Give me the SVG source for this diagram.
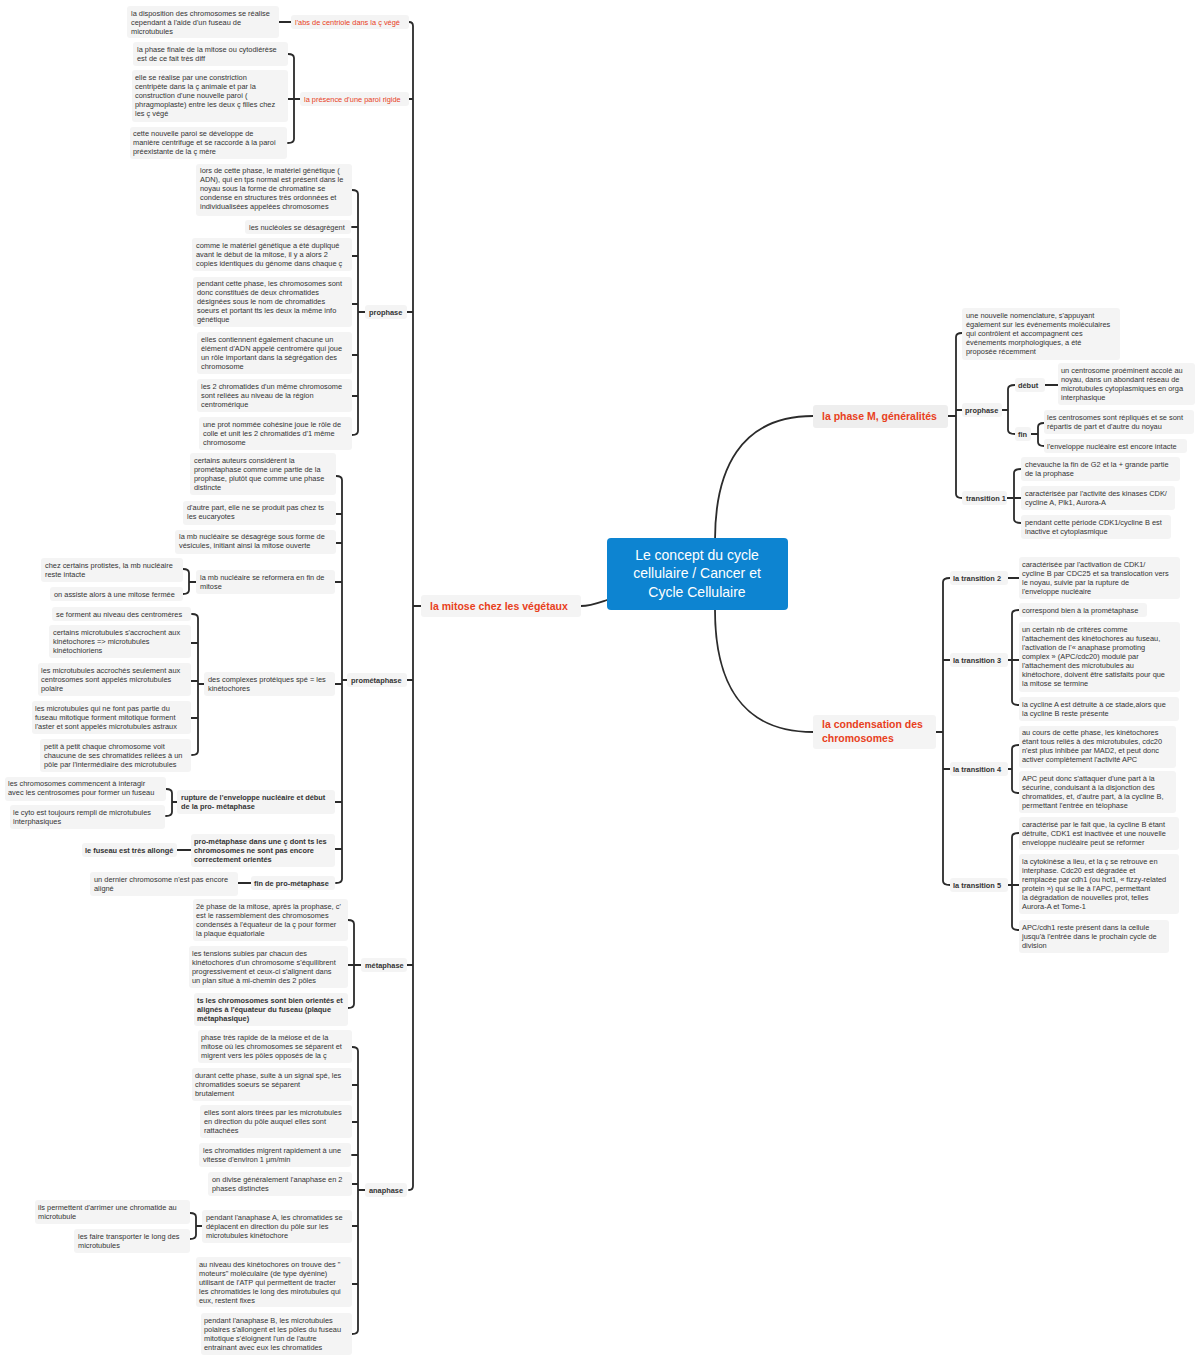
<svg xmlns="http://www.w3.org/2000/svg" width="1200" height="1363" viewBox="0 0 1200 1363">
<style>
.b{fill:#f4f4f4}
text{font-family:"Liberation Sans",Arial,sans-serif;font-size:7.4px;fill:#333}
.bo{font-weight:bold}
.r{fill:#e8401c}
.m{font-size:10.5px;font-weight:bold;fill:#e8401c}
.c{fill:none;stroke:#2b2b2b;stroke-width:1.8;stroke-linecap:round}
</style>
<rect width="1200" height="1363" fill="#fff"/>
<g id="connectors" class="c">
<path d="M715,540 C715,470 740,416 813,416"/>
<path d="M715,610 C715,680 740,732 813,732"/>
<path d="M607,600 C595,604 590,606 581,606"/>
<path d="M409,22 Q413,22 413,26 V1186 Q413,1190 409,1190 M409,99 H413 M407,312 H413 M407,680 H413 M407,965 H413 M413,606 H421"/>
<path d="M279,22 H291"/>
<path d="M288,54 Q294,54 294,58 V139 Q294,143 288,143 M288,99 H300"/>
<path d="M352,190 Q358,190 358,194 V431 Q358,435 352,435 M352,227 H358 M352,256 H358 M352,304 H358 M352,355 H358 M352,396 H358 M358,312 H365"/>
<path d="M336,476 Q342,476 342,480 V879 Q342,883 336,883 M336,514 H342 M336,543 H342 M335,582 H342 M335,684 H342 M335,802 H342 M335,849 H342 M342,680 H347"/>
<path d="M183,569 Q189,569 189,573 V590 Q189,594 183,594 M189,582 H196"/>
<path d="M192,614 Q198,614 198,618 V751 Q198,755 192,755 M191,643 H198 M191,681 H198 M191,718 H198 M198,684 H204"/>
<path d="M166,789 Q172,789 172,793 V812 Q172,816 166,816 M172,802 H177"/>
<path d="M177,850 H191 M238,883 H251"/>
<path d="M348,920 Q354,920 354,924 V1004 Q354,1008 348,1008 M348,965 H361"/>
<path d="M352,1047 Q358,1047 358,1051 V1330 Q358,1334 352,1334 M352,1085 H358 M352,1122 H358 M352,1155 H358 M352,1184 H358 M352,1226 H358 M352,1284 H358 M358,1190 H365"/>
<path d="M190,1213 Q196,1213 196,1217 V1235 Q196,1239 190,1239 M196,1226 H202"/>
<path d="M962,333 Q956,333 956,337 V494 Q956,498 962,498 M948,416 H956 M956,410 H962"/>
<path d="M1015,385 Q1008,385 1008,389 V430 Q1008,434 1015,434 M1002,410 H1008 M1045,385 H1058"/>
<path d="M1044,423 Q1038,423 1038,427 V442 Q1038,446 1044,446 M1031,434 H1038"/>
<path d="M1021,469 Q1014,469 1014,473 V519 Q1014,523 1021,523 M1007,498 H1021"/>
<path d="M950,578 Q943,578 943,582 V881 Q943,885 950,885 M936,732 H943 M943,660 H950 M943,769 H950 M1008,578 H1019"/>
<path d="M1019,610 Q1012,610 1012,614 V701 Q1012,705 1019,705 M1008,660 H1019"/>
<path d="M1019,745 Q1012,745 1012,749 V789 Q1012,793 1019,793 M1008,769 H1012"/>
<path d="M1019,833 Q1012,833 1012,837 V926 Q1012,930 1019,930 M1008,885 H1019"/>
</g>
<g id="center">
<rect x="607" y="538" width="181" height="72" rx="4" fill="#0d84d1"/>
<text x="697" y="560" text-anchor="middle" style="font-size:14px;fill:#fff">Le concept du cycle</text>
<text x="697" y="578" text-anchor="middle" style="font-size:14px;fill:#fff">cellulaire / Cancer et</text>
<text x="697" y="597" text-anchor="middle" style="font-size:14px;fill:#fff">Cycle Cellulaire</text>
</g>
<g id="phaseM"><rect x="813" y="405" width="135" height="23" rx="3" fill="#eee"/><text class="m" x="822" y="420">la phase M, généralités</text></g>
<g id="condensation"><rect class="b" x="813" y="715" width="123" height="34" rx="3"/><text class="m" x="822" y="728">la condensation des</text><text class="m" x="822" y="742">chromosomes</text></g>
<g id="mitose"><rect class="b" x="421" y="595" width="160" height="22" rx="3"/><text class="m" x="430" y="610">la mitose chez les végétaux</text></g>

<g id="n1"><rect class="b" x="291" y="15" width="118" height="14" rx="3"/><text class="r" x="295" y="25">l'abs de centriole dans la ç végé</text></g>
<g id="n1a"><rect class="b" x="127" y="6" width="152" height="32" rx="3"/><text x="131" y="16">la disposition des chromosomes se réalise</text><text x="131" y="25">cependant à l'aide d'un fuseau de</text><text x="131" y="34">microtubules</text></g>
<g id="n2"><rect class="b" x="300" y="92" width="109" height="14" rx="3"/><text class="r" x="304" y="102">la présence d'une paroi rigide</text></g>
<g id="n2a"><rect class="b" x="133" y="42" width="155" height="24" rx="3"/><text x="137" y="52">la phase finale de la mitose ou cytodiérèse</text><text x="137" y="61">est de ce fait très diff</text></g>
<g id="n2b"><rect class="b" x="132" y="70" width="156" height="52" rx="3"/><text x="135" y="80">elle se réalise par une constriction</text><text x="135" y="89">centripète dans la ç animale et par la</text><text x="135" y="98">construction d'une nouvelle paroi (</text><text x="135" y="107">phragmoplaste) entre les deux ç filles chez</text><text x="135" y="116">les ç végé</text></g>
<g id="n2c"><rect class="b" x="130" y="127" width="157" height="32" rx="3"/><text x="133" y="136">cette nouvelle paroi se développe de</text><text x="133" y="145">manière centrifuge et se raccorde à la paroi</text><text x="133" y="154">préexistante de la ç mère</text></g>

<g id="prophase"><rect class="b" x="365" y="305" width="42" height="14" rx="3"/><text class="bo" x="369" y="315">prophase</text></g>
<g id="p1"><rect class="b" x="196" y="164" width="156" height="52" rx="3"/><text x="200" y="173">lors de cette phase, le matériel génétique (</text><text x="200" y="182">ADN), qui en tps normal est présent dans le</text><text x="200" y="191">noyau sous la forme de chromatine se</text><text x="200" y="200">condense en structures très ordonnées et</text><text x="200" y="209">individualisées appelées chromosomes</text></g>
<g id="p2"><rect class="b" x="245" y="220" width="106" height="14" rx="3"/><text x="249" y="230">les nucléoles se désagrègent</text></g>
<g id="p3"><rect class="b" x="192" y="238" width="160" height="33" rx="3"/><text x="196" y="248">comme le matériel génétique a été dupliqué</text><text x="196" y="257">avant le début de la mitose, il y a alors 2</text><text x="196" y="266">copies identiques du génome dans chaque ç</text></g>
<g id="p4"><rect class="b" x="193" y="277" width="159" height="50" rx="3"/><text x="197" y="286">pendant cette phase, les chromosomes sont</text><text x="197" y="295">donc constitués de deux chromatides</text><text x="197" y="304">désignées sous le nom de chromatides</text><text x="197" y="313">soeurs et portant tts les deux la même info</text><text x="197" y="322">génétique</text></g>
<g id="p5"><rect class="b" x="197" y="332" width="155" height="42" rx="3"/><text x="201" y="342">elles contiennent également chacune un</text><text x="201" y="351">élément d'ADN appelé centromère qui joue</text><text x="201" y="360">un rôle important dans la ségrégation des</text><text x="201" y="369">chromosome</text></g>
<g id="p6"><rect class="b" x="197" y="379" width="155" height="33" rx="3"/><text x="201" y="389">les 2 chromatides d'un même chromosome</text><text x="201" y="398">sont reliées au niveau de la région</text><text x="201" y="407">centromérique</text></g>
<g id="p7"><rect class="b" x="199" y="417" width="153" height="33" rx="3"/><text x="203" y="427">une prot nommée cohésine joue le rôle de</text><text x="203" y="436">colle et unit les 2 chromatides d'1 même</text><text x="203" y="445">chromosome</text></g>

<g id="prometa"><rect class="b" x="347" y="673" width="60" height="14" rx="3"/><text class="bo" x="351" y="683">prométaphase</text></g>
<g id="pm1"><rect class="b" x="190" y="453" width="146" height="42" rx="3"/><text x="194" y="463">certains auteurs considèrent la</text><text x="194" y="472">prométaphase comme une partie de la</text><text x="194" y="481">prophase, plutôt que comme une phase</text><text x="194" y="490">distincte</text></g>
<g id="pm2"><rect class="b" x="183" y="501" width="153" height="24" rx="3"/><text x="187" y="510">d'autre part, elle ne se produit pas chez ts</text><text x="187" y="519">les eucaryotes</text></g>
<g id="pm3"><rect class="b" x="175" y="530" width="161" height="24" rx="3"/><text x="179" y="539">la mb nucléaire se désagrège sous forme de</text><text x="179" y="548">vésicules, initiant ainsi la mitose ouverte</text></g>
<g id="pm4"><rect class="b" x="196" y="570" width="139" height="24" rx="3"/><text x="200" y="580">la mb nucléaire se reformera en fin de</text><text x="200" y="589">mitose</text></g>
<g id="pm4a"><rect class="b" x="41" y="558" width="142" height="24" rx="3"/><text x="45" y="568">chez certains protistes, la mb nucléaire</text><text x="45" y="577">reste intacte</text></g>
<g id="pm4b"><rect class="b" x="50" y="587" width="133" height="14" rx="3"/><text x="54" y="597">on assiste alors à une mitose fermée</text></g>
<g id="pm5"><rect class="b" x="204" y="672" width="131" height="24" rx="3"/><text x="208" y="682">des complexes protéiques spé = les</text><text x="208" y="691">kinétochores</text></g>
<g id="pm5a"><rect class="b" x="52" y="607" width="139" height="14" rx="3"/><text x="56" y="617">se forment au niveau des centromères</text></g>
<g id="pm5b"><rect class="b" x="49" y="625" width="142" height="33" rx="3"/><text x="53" y="635">certains microtubules s'accrochent aux</text><text x="53" y="644">kinétochores =&gt; microtubules</text><text x="53" y="653">kinétochioriens</text></g>
<g id="pm5c"><rect class="b" x="38" y="663" width="153" height="33" rx="3"/><text x="41" y="673">les microtubules accrochés seulement aux</text><text x="41" y="682">centrosomes sont appelés microtubules</text><text x="41" y="691">polaire</text></g>
<g id="pm5d"><rect class="b" x="32" y="701" width="159" height="33" rx="3"/><text x="35" y="711">les microtubules qui ne font pas partie du</text><text x="35" y="720">fuseau mitotique forment mitotique forment</text><text x="35" y="729">l'aster et sont appelés microtubules astraux</text></g>
<g id="pm5e"><rect class="b" x="40" y="739" width="151" height="33" rx="3"/><text x="44" y="749">petit à petit chaque chromosome voit</text><text x="44" y="758">chaucune de ses chromatides reliées à un</text><text x="44" y="767">pôle par l'intermédiaire des microtubules</text></g>
<g id="pm6"><rect class="b" x="177" y="790" width="158" height="24" rx="3"/><text class="bo" x="181" y="800">rupture de l'enveloppe nucléaire et début</text><text class="bo" x="181" y="809">de la pro- métaphase</text></g>
<g id="pm6a"><rect class="b" x="5" y="777" width="161" height="24" rx="3"/><text x="8" y="786">les chromosomes commencent à interagir</text><text x="8" y="795">avec les centrosomes pour former un fuseau</text></g>
<g id="pm6b"><rect class="b" x="10" y="805" width="155" height="24" rx="3"/><text x="13" y="815">le cyto est toujours rempli de microtubules</text><text x="13" y="824">interphasiques</text></g>
<g id="pm7"><rect class="b" x="191" y="834" width="144" height="33" rx="3"/><text class="bo" x="194" y="844">pro-métaphase dans une ç dont ts les</text><text class="bo" x="194" y="853">chromosomes ne sont pas encore</text><text class="bo" x="194" y="862">correctement orientés</text></g>
<g id="pm7a"><rect class="b" x="82" y="843" width="95" height="14" rx="3"/><text class="bo" x="85" y="853">le fuseau est très allongé</text></g>
<g id="pm8"><rect class="b" x="251" y="876" width="84" height="14" rx="3"/><text class="bo" x="254" y="886">fin de pro-métaphase</text></g>
<g id="pm8a"><rect class="b" x="90" y="872" width="148" height="24" rx="3"/><text x="94" y="882">un dernier chromosome n'est pas encore</text><text x="94" y="891">aligné</text></g>

<g id="metaphase"><rect class="b" x="361" y="958" width="46" height="14" rx="3"/><text class="bo" x="365" y="968">métaphase</text></g>
<g id="m1"><rect class="b" x="193" y="899" width="155" height="42" rx="3"/><text x="196" y="909">2è phase de la mitose, après la prophase, c'</text><text x="196" y="918">est le rassemblement des chromosomes</text><text x="196" y="927">condensés à l'équateur de la ç pour former</text><text x="196" y="936">la plaque équatoriale</text></g>
<g id="m2"><rect class="b" x="189" y="946" width="159" height="42" rx="3"/><text x="192" y="956">les tensions subies par chacun des</text><text x="192" y="965">kinétochores d'un chromosome s'équilibrent</text><text x="192" y="974">progressivement et ceux-ci s'alignent dans</text><text x="192" y="983">un plan situé à mi-chemin des 2 pôles</text></g>
<g id="m3"><rect class="b" x="194" y="993" width="154" height="33" rx="3"/><text class="bo" x="197" y="1003">ts les chromosomes sont bien orientés et</text><text class="bo" x="197" y="1012">alignés à l'équateur du fuseau (plaque</text><text class="bo" x="197" y="1021">métaphasique)</text></g>

<g id="anaphase"><rect class="b" x="365" y="1183" width="42" height="14" rx="3"/><text class="bo" x="369" y="1193">anaphase</text></g>
<g id="a1"><rect class="b" x="198" y="1030" width="154" height="33" rx="3"/><text x="201" y="1040">phase très rapide de la méiose et de la</text><text x="201" y="1049">mitose où les chromosomes se séparent et</text><text x="201" y="1058">migrent vers les pôles opposés de la ç</text></g>
<g id="a2"><rect class="b" x="192" y="1068" width="160" height="33" rx="3"/><text x="195" y="1078">durant cette phase, suite à un signal spé, les</text><text x="195" y="1087">chromatides soeurs se séparent</text><text x="195" y="1096">brutalement</text></g>
<g id="a3"><rect class="b" x="200" y="1105" width="152" height="33" rx="3"/><text x="204" y="1115">elles sont alors tirées par les microtubules</text><text x="204" y="1124">en direction du pôle auquel elles sont</text><text x="204" y="1133">rattachées</text></g>
<g id="a4"><rect class="b" x="199" y="1143" width="152" height="24" rx="3"/><text x="203" y="1153">les chromatides migrent rapidement à une</text><text x="203" y="1162">vitesse d'environ 1 μm/min</text></g>
<g id="a5"><rect class="b" x="208" y="1172" width="144" height="24" rx="3"/><text x="212" y="1182">on divise généralement l'anaphase en 2</text><text x="212" y="1191">phases distinctes</text></g>
<g id="a6"><rect class="b" x="202" y="1210" width="150" height="33" rx="3"/><text x="206" y="1220">pendant l'anaphase A, les chromatides se</text><text x="206" y="1229">déplacent en direction du pôle sur les</text><text x="206" y="1238">microtubules kinétochore</text></g>
<g id="a6a"><rect class="b" x="35" y="1200" width="155" height="24" rx="3"/><text x="38" y="1210">ils permettent d'arrimer une chromatide au</text><text x="38" y="1219">microtubule</text></g>
<g id="a6b"><rect class="b" x="74" y="1229" width="116" height="24" rx="3"/><text x="78" y="1239">les faire transporter le long des</text><text x="78" y="1248">microtubules</text></g>
<g id="a7"><rect class="b" x="196" y="1257" width="156" height="50" rx="3"/><text x="199" y="1267">au niveau des kinétochores on trouve des "</text><text x="199" y="1276">moteurs" moléculaire (de type dyénine)</text><text x="199" y="1285">utilisant de l'ATP qui permettent de tracter</text><text x="199" y="1294">les chromatides le long des mirotubules qui</text><text x="199" y="1303">eux, restent fixes</text></g>
<g id="a8"><rect class="b" x="201" y="1313" width="151" height="42" rx="3"/><text x="204" y="1323">pendant l'anaphase B, les microtubules</text><text x="204" y="1332">polaires s'allongent et les pôles du fuseau</text><text x="204" y="1341">mitotique s'éloignent l'un de l'autre</text><text x="204" y="1350">entrainant avec eux les chromatides</text></g>

<g id="r1"><rect class="b" x="962" y="308" width="158" height="52" rx="3"/><text x="966" y="318">une nouvelle nomenclature, s'appuyant</text><text x="966" y="327">également sur les événements moléculaires</text><text x="966" y="336">qui contrôlent et accompagnent ces</text><text x="966" y="345">événements morphologiques, a été</text><text x="966" y="354">proposée récemment</text></g>
<g id="rprophase"><rect class="b" x="962" y="403" width="40" height="14" rx="3"/><text class="bo" x="965" y="413">prophase</text></g>
<g id="rdebut"><rect class="b" x="1015" y="378" width="30" height="14" rx="3"/><text class="bo" x="1018" y="388">début</text></g>
<g id="rdebut1"><rect class="b" x="1058" y="363" width="137" height="42" rx="3"/><text x="1061" y="373">un centrosome proéminent accolé au</text><text x="1061" y="382">noyau, dans un abondant réseau de</text><text x="1061" y="391">microtubules cytoplasmiques en orga</text><text x="1061" y="400">interphasique</text></g>
<g id="rfin"><rect class="b" x="1015" y="427" width="16" height="14" rx="3"/><text class="bo" x="1018" y="437">fin</text></g>
<g id="rfin1"><rect class="b" x="1044" y="410" width="150" height="24" rx="3"/><text x="1047" y="420">les centrosomes sont répliqués et se sont</text><text x="1047" y="429">répartis de part et d'autre du noyau</text></g>
<g id="rfin2"><rect class="b" x="1044" y="439" width="143" height="14" rx="3"/><text x="1047" y="449">l'enveloppe nucléaire est encore intacte</text></g>
<g id="rt1"><rect class="b" x="962" y="491" width="45" height="14" rx="3"/><text class="bo" x="966" y="501">transition 1</text></g>
<g id="rt1a"><rect class="b" x="1021" y="457" width="159" height="24" rx="3"/><text x="1025" y="467">chevauche la fin de G2 et la + grande partie</text><text x="1025" y="476">de la prophase</text></g>
<g id="rt1b"><rect class="b" x="1021" y="486" width="154" height="24" rx="3"/><text x="1025" y="496">caractérisée par l'activité des kinases CDK/</text><text x="1025" y="505">cycline A, Plk1, Aurora-A</text></g>
<g id="rt1c"><rect class="b" x="1021" y="515" width="150" height="24" rx="3"/><text x="1025" y="525">pendant cette période CDK1/cycline B est</text><text x="1025" y="534">inactive et cytoplasmique</text></g>

<g id="t2"><rect class="b" x="950" y="571" width="58" height="14" rx="3"/><text class="bo" x="953" y="581">la transition 2</text></g>
<g id="t2a"><rect class="b" x="1019" y="557" width="161" height="42" rx="3"/><text x="1022" y="567">caractérisée par l'activation de CDK1/</text><text x="1022" y="576">cycline B par CDC25 et sa translocation vers</text><text x="1022" y="585">le noyau, suivie par la rupture de</text><text x="1022" y="594">l'enveloppe nucléaire</text></g>
<g id="t3"><rect class="b" x="950" y="653" width="58" height="14" rx="3"/><text class="bo" x="953" y="663">la transition 3</text></g>
<g id="t3a"><rect class="b" x="1019" y="603" width="128" height="14" rx="3"/><text x="1022" y="613">correspond bien à la prométaphase</text></g>
<g id="t3b"><rect class="b" x="1019" y="622" width="161" height="70" rx="3"/><text x="1022" y="632">un certain nb de critères comme</text><text x="1022" y="641">l'attachement des kinétochores au fuseau,</text><text x="1022" y="650">l'activation de l'« anaphase promoting</text><text x="1022" y="659">complex » (APC/cdc20) modulé par</text><text x="1022" y="668">l'attachement des microtubules au</text><text x="1022" y="677">kinétochore, doivent être satisfaits pour que</text><text x="1022" y="686">la mitose se termine</text></g>
<g id="t3c"><rect class="b" x="1019" y="697" width="160" height="24" rx="3"/><text x="1022" y="707">la cycline A est détruite à ce stade,alors que</text><text x="1022" y="716">la cycline B reste présente</text></g>
<g id="t4"><rect class="b" x="950" y="762" width="58" height="14" rx="3"/><text class="bo" x="953" y="772">la transition 4</text></g>
<g id="t4a"><rect class="b" x="1019" y="726" width="157" height="42" rx="3"/><text x="1022" y="735">au cours de cette phase, les kinétochores</text><text x="1022" y="744">étant tous reliés à des microtubules, cdc20</text><text x="1022" y="753">n'est plus inhibée par MAD2, et peut donc</text><text x="1022" y="762">activer complètement l'activité APC</text></g>
<g id="t4b"><rect class="b" x="1019" y="771" width="157" height="42" rx="3"/><text x="1022" y="781">APC peut donc s'attaquer d'une part à la</text><text x="1022" y="790">sécurine, conduisant à la disjonction des</text><text x="1022" y="799">chromatides, et, d'autre part, à la cycline B,</text><text x="1022" y="808">permettant l'entrée en télophase</text></g>
<g id="t5"><rect class="b" x="950" y="878" width="58" height="14" rx="3"/><text class="bo" x="953" y="888">la transition 5</text></g>
<g id="t5a"><rect class="b" x="1019" y="817" width="160" height="33" rx="3"/><text x="1022" y="827">caractérisé par le fait que, la cycline B étant</text><text x="1022" y="836">détruite, CDK1 est inactivée et une nouvelle</text><text x="1022" y="845">enveloppe nucléaire peut se reformer</text></g>
<g id="t5b"><rect class="b" x="1019" y="854" width="160" height="60" rx="3"/><text x="1022" y="864">la cytokinèse a lieu, et la ç se retrouve en</text><text x="1022" y="873">interphase. Cdc20 est dégradée et</text><text x="1022" y="882">remplacée par cdh1 (ou hct1, « fizzy-related</text><text x="1022" y="891">protein ») qui se lie à l'APC, permettant</text><text x="1022" y="900">la dégradation de nouvelles prot, telles</text><text x="1022" y="909">Aurora-A et Tome-1</text></g>
<g id="t5c"><rect class="b" x="1019" y="920" width="150" height="33" rx="3"/><text x="1022" y="930">APC/cdh1 reste présent dans la cellule</text><text x="1022" y="939">jusqu'à l'entrée dans le prochain cycle de</text><text x="1022" y="948">division</text></g>
</svg>
